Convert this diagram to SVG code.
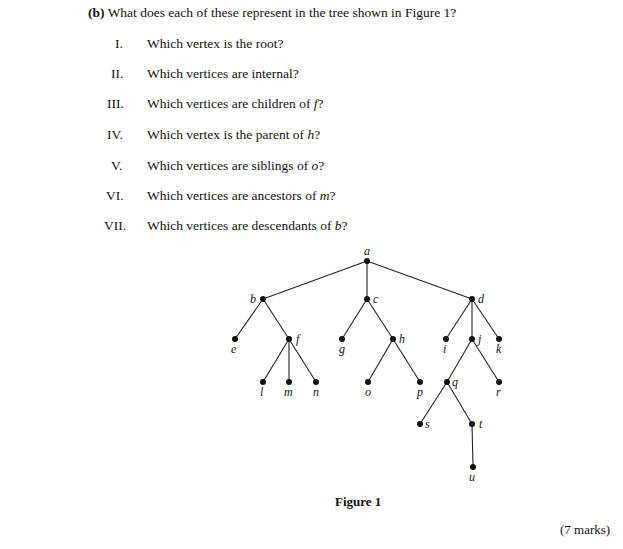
<svg xmlns="http://www.w3.org/2000/svg" width="623" height="549" viewBox="0 0 623 549">
<style>
text{font-family:"Liberation Serif",serif;font-size:13px;fill:#111}
.q{font-size:13.5px}
.lb{font-style:italic;font-size:12px}
.e line{stroke:#222;stroke-width:1.1}
circle{fill:#111}
</style>
<rect width="623" height="549" fill="#fff"/>
<text x="88" y="17" class="q"><tspan font-weight="bold">(b)</tspan> What does each of these represent in the tree shown in Figure 1?</text>
<text x="115" y="48" class="q">I.</text><text x="147" y="48" class="q">Which vertex is the root?</text>
<text x="111" y="78" class="q">II.</text><text x="147" y="78" class="q">Which vertices are internal?</text>
<text x="107" y="108" class="q">III.</text><text x="147" y="108" class="q">Which vertices are children of <tspan font-style="italic">f</tspan>?</text>
<text x="107" y="139" class="q">IV.</text><text x="147" y="139" class="q">Which vertex is the parent of <tspan font-style="italic">h</tspan>?</text>
<text x="111" y="170" class="q">V.</text><text x="147" y="170" class="q">Which vertices are siblings of <tspan font-style="italic">o</tspan>?</text>
<text x="106" y="200" class="q">VI.</text><text x="147" y="200" class="q">Which vertices are ancestors of <tspan font-style="italic">m</tspan>?</text>
<text x="104" y="230" class="q">VII.</text><text x="147" y="230" class="q">Which vertices are descendants of <tspan font-style="italic">b</tspan>?</text>
<g class="e" id="connectors">
<line x1="367" y1="261" x2="263" y2="299"/><line x1="367" y1="261" x2="367" y2="299"/><line x1="367" y1="261" x2="472" y2="299"/>
<line x1="263" y1="299" x2="235" y2="339"/><line x1="263" y1="299" x2="289" y2="339"/>
<line x1="289" y1="339" x2="263" y2="382"/><line x1="289" y1="339" x2="289" y2="382"/><line x1="289" y1="339" x2="316" y2="382"/>
<line x1="367" y1="299" x2="342" y2="339"/><line x1="367" y1="299" x2="393" y2="339"/>
<line x1="393" y1="339" x2="368" y2="382"/><line x1="393" y1="339" x2="420" y2="382"/>
<line x1="472" y1="299" x2="446" y2="339"/><line x1="472" y1="299" x2="472" y2="339"/><line x1="472" y1="299" x2="499" y2="339"/>
<line x1="472" y1="339" x2="447" y2="382"/><line x1="472" y1="339" x2="499" y2="382"/>
<line x1="447" y1="382" x2="420" y2="424"/><line x1="447" y1="382" x2="472" y2="424"/>
<line x1="472" y1="424" x2="473" y2="467"/>
</g>
<g id="a"><circle cx="367" cy="261" r="3"/><text class="lb" x="364" y="255">a</text></g>
<g id="b"><circle cx="263" cy="299" r="3"/><text class="lb" x="250" y="303">b</text></g>
<g id="c"><circle cx="367" cy="299" r="3"/><text class="lb" x="373" y="303">c</text></g>
<g id="d"><circle cx="472" cy="299" r="3"/><text class="lb" x="478" y="303">d</text></g>
<g id="e"><circle cx="235" cy="339" r="3"/><text class="lb" x="231" y="353">e</text></g>
<g id="f"><circle cx="289" cy="339" r="3"/><text class="lb" x="296" y="343">f</text></g>
<g id="g"><circle cx="342" cy="339" r="3"/><text class="lb" x="339" y="353">g</text></g>
<g id="h"><circle cx="393" cy="339" r="3"/><text class="lb" x="399" y="343">h</text></g>
<g id="i"><circle cx="446" cy="339" r="3"/><text class="lb" x="443" y="353">i</text></g>
<g id="j"><circle cx="472" cy="339" r="3"/><text class="lb" x="478" y="343">j</text></g>
<g id="k"><circle cx="499" cy="339" r="3"/><text class="lb" x="496" y="353">k</text></g>
<g id="l"><circle cx="263" cy="382" r="3"/><text class="lb" x="260" y="396">l</text></g>
<g id="m"><circle cx="289" cy="382" r="3"/><text class="lb" x="284" y="396">m</text></g>
<g id="n"><circle cx="316" cy="382" r="3"/><text class="lb" x="313" y="396">n</text></g>
<g id="o"><circle cx="368" cy="382" r="3"/><text class="lb" x="365" y="396">o</text></g>
<g id="p"><circle cx="420" cy="382" r="3"/><text class="lb" x="417" y="396">p</text></g>
<g id="q"><circle cx="447" cy="382" r="3"/><text class="lb" x="452" y="386">q</text></g>
<g id="r"><circle cx="499" cy="382" r="3"/><text class="lb" x="496" y="396">r</text></g>
<g id="s"><circle cx="420" cy="424" r="3"/><text class="lb" x="425" y="428">s</text></g>
<g id="t"><circle cx="472" cy="424" r="3"/><text class="lb" x="479" y="428">t</text></g>
<g id="u"><circle cx="473" cy="467" r="3"/><text class="lb" x="469" y="481">u</text></g>
<text x="335" y="506" font-weight="bold">Figure 1</text>
<text x="560" y="534">(7 marks)</text>
</svg>
